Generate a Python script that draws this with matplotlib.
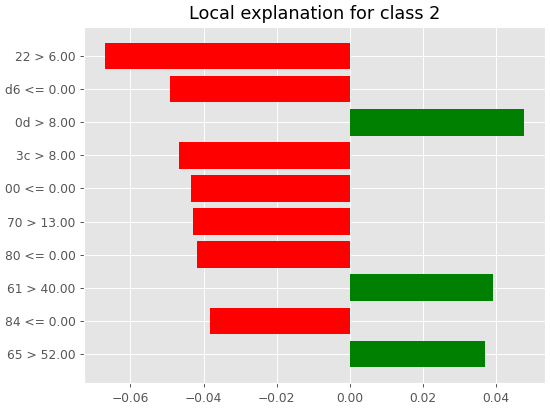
import matplotlib
matplotlib.use("Agg")
import matplotlib.pyplot as plt

plt.style.use("ggplot")

features = ["22 > 6.00", "d6 <= 0.00", "0d > 8.00", "3c > 8.00", "00 <= 0.00",
            "70 > 13.00", "80 <= 0.00", "61 > 40.00", "84 <= 0.00", "65 > 52.00"]
weights = [-0.0669, -0.0492, 0.0477, -0.0467, -0.0434,
           -0.0429, -0.0419, 0.0392, -0.0381, 0.0370]

# LIME plots from bottom up
feats = features[::-1]
vals = weights[::-1]
colors = ["green" if v > 0 else "red" for v in vals]

DPI = 88
fig = plt.figure(figsize=(550 / DPI, 409 / DPI), dpi=DPI)
ax = fig.add_axes([84.3/550, 1-383.3/409, (545-84.3)/550, (383.3-26.7)/409])
pos = list(range(len(vals)))
ax.barh(pos, vals, align="center", color=colors)
ax.set_yticks(pos)
ax.set_yticklabels(feats)
ax.set_title("Local explanation for class 2")
fig.savefig("out.png", dpi=DPI)
